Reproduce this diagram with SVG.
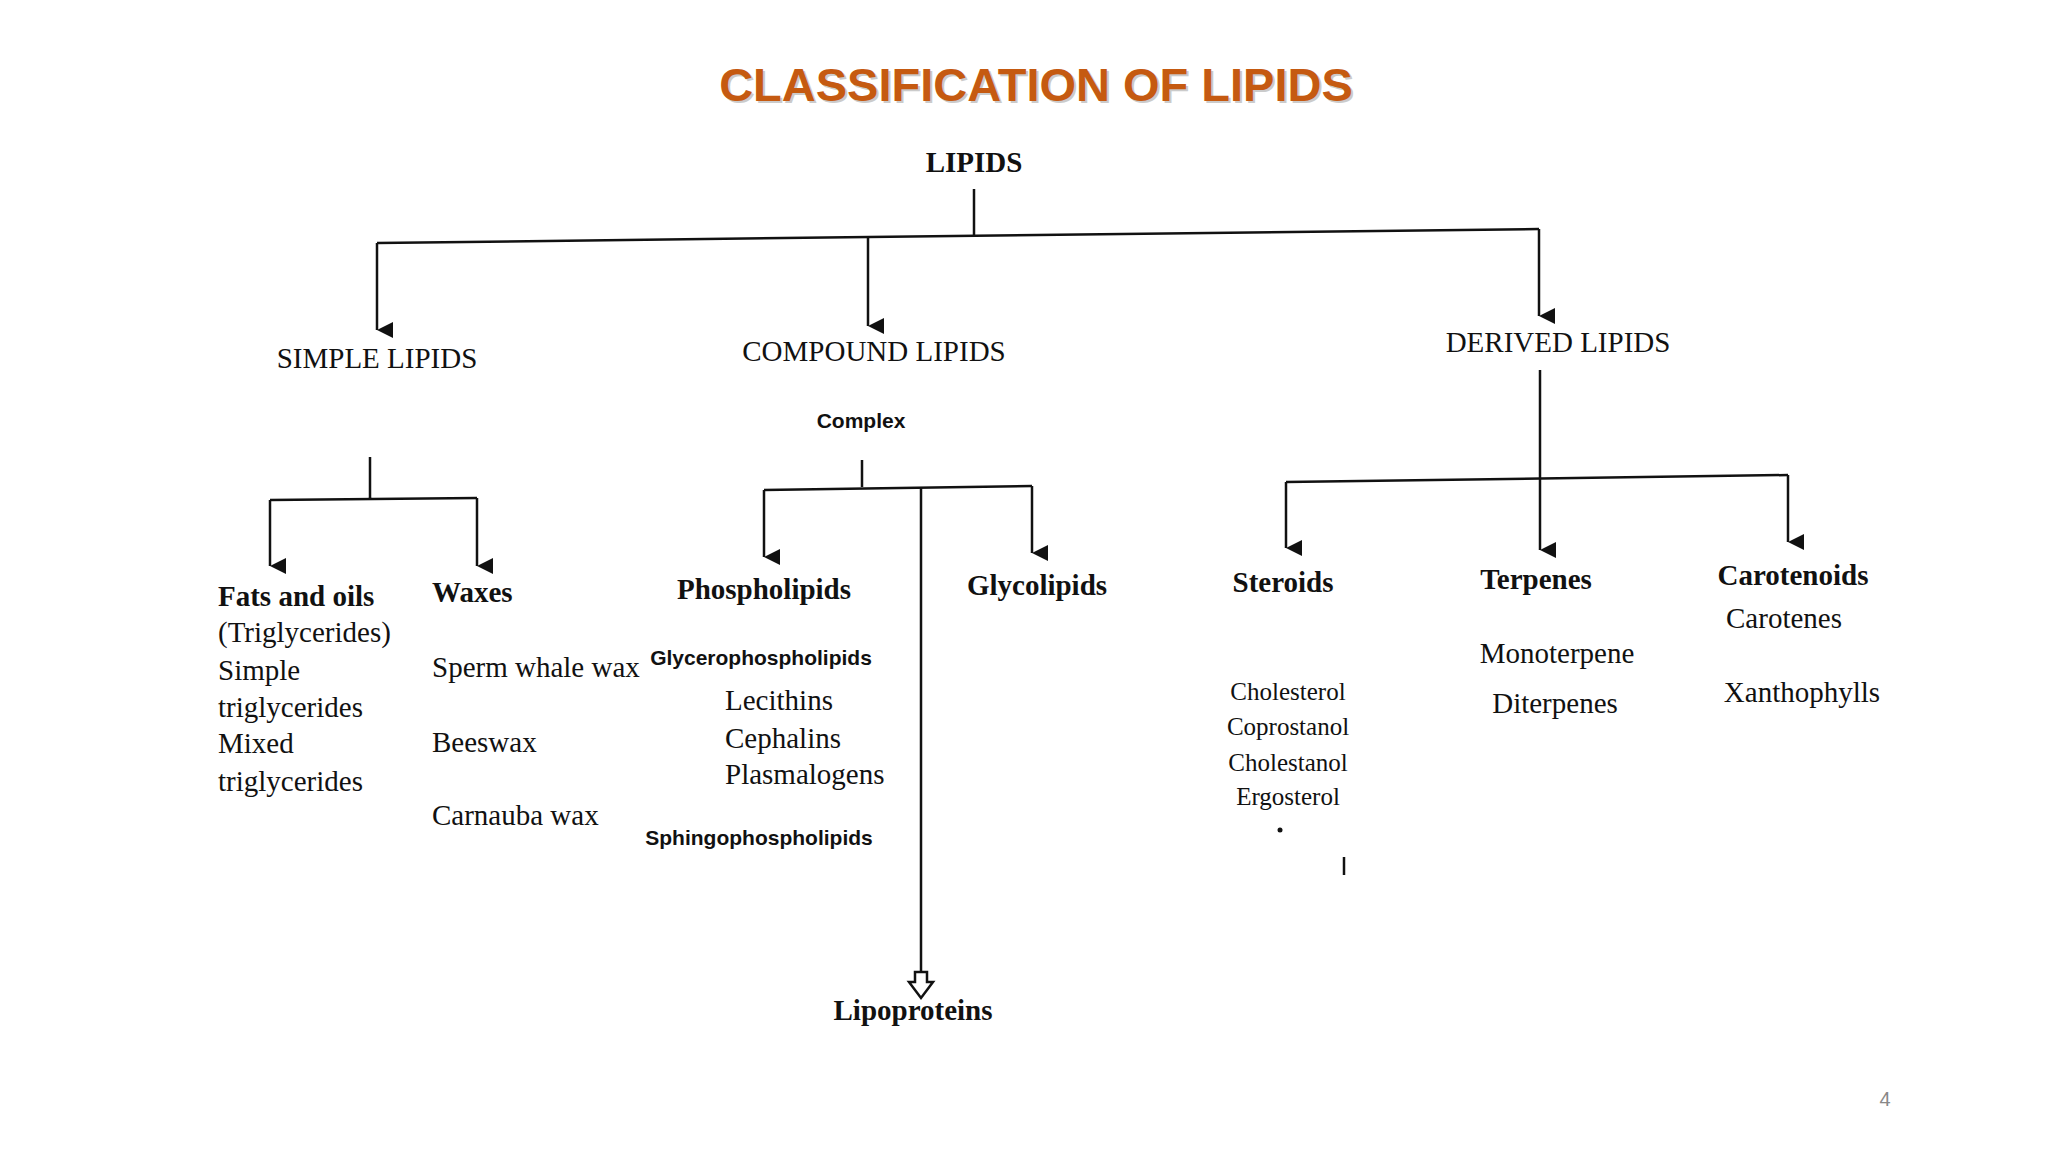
<svg xmlns="http://www.w3.org/2000/svg" width="2048" height="1152" viewBox="0 0 2048 1152">
<defs>
<style>
.t{font-family:"Liberation Serif",serif;font-size:29px;fill:#111}
.b{font-family:"Liberation Serif",serif;font-size:29px;font-weight:bold;fill:#111}
.s{font-family:"Liberation Sans",sans-serif;font-size:21px;font-weight:bold;fill:#111}
.c{font-family:"Liberation Serif",serif;font-size:25px;fill:#111}
.l{stroke:#111;stroke-width:2.5;fill:none}
</style>
<marker id="a" viewBox="0 0 10 10" refX="5" refY="10" markerWidth="16" markerHeight="16" markerUnits="userSpaceOnUse" orient="auto-start-reverse"><path d="M0,0 L10,0 L5,10z" fill="#111" transform="rotate(0)"/></marker>
</defs>
<rect width="2048" height="1152" fill="#fff"/>
<text x="1038" y="103" text-anchor="middle" font-family="Liberation Sans,sans-serif" font-size="47" font-weight="bold" fill="#999" opacity="0.5">CLASSIFICATION OF LIPIDS</text>
<text x="1036" y="101" text-anchor="middle" font-family="Liberation Sans,sans-serif" font-size="47" font-weight="bold" fill="#C55A11">CLASSIFICATION OF LIPIDS</text>
<g id="connectors">
<path class="l" d="M974 189V235"/>
<path class="l" d="M377 243L1539 229"/>
<path class="l" d="M377 243V330" marker-end="url(#a)"/>
<path class="l" d="M868 238V326" marker-end="url(#a)"/>
<path class="l" d="M1539 229V316" marker-end="url(#a)"/>
<path class="l" d="M370 457V498M270 500L477 498"/>
<path class="l" d="M270 500V566" marker-end="url(#a)"/>
<path class="l" d="M477 498V566" marker-end="url(#a)"/>
<path class="l" d="M862 460V487M764 490L1032 486"/>
<path class="l" d="M764 490V557" marker-end="url(#a)"/>
<path class="l" d="M1032 486V553" marker-end="url(#a)"/>
<path class="l" d="M921 487V972"/>
<path d="M915 972h12v10h6l-12 16l-12-16h6z" fill="#fff" stroke="#111" stroke-width="2.5"/>
<path class="l" d="M1540 370V550" marker-end="url(#a)"/>
<path class="l" d="M1286 482L1788 475"/>
<path class="l" d="M1286 482V548" marker-end="url(#a)"/>
<path class="l" d="M1788 475V542" marker-end="url(#a)"/>
<path class="l" d="M1344 857V875" stroke-width="1.5"/>
</g>
<g id="lipids"><text class="b" x="974" y="172" text-anchor="middle" font-size="28">LIPIDS</text></g>
<g id="simple"><text class="t" x="377" y="368" text-anchor="middle">SIMPLE LIPIDS</text></g>
<g id="compound"><text class="t" x="874" y="361" text-anchor="middle">COMPOUND LIPIDS</text>
<text class="s" x="861" y="428" text-anchor="middle">Complex</text></g>
<g id="derived"><text class="t" x="1558" y="352" text-anchor="middle">DERIVED LIPIDS</text></g>
<g id="fats"><text class="b" x="218" y="606">Fats and oils</text>
<text class="t" x="218" y="642">(Triglycerides)</text>
<text class="t" x="218" y="680">Simple</text>
<text class="t" x="218" y="717">triglycerides</text>
<text class="t" x="218" y="753">Mixed</text>
<text class="t" x="218" y="791">triglycerides</text></g>
<g id="waxes"><text class="b" x="432" y="602">Waxes</text>
<text class="t" x="432" y="677">Sperm whale wax</text>
<text class="t" x="432" y="752">Beeswax</text>
<text class="t" x="432" y="825">Carnauba wax</text></g>
<g id="phospholipids"><text class="b" x="764" y="599" text-anchor="middle">Phospholipids</text>
<text class="s" x="761" y="665" text-anchor="middle">Glycerophospholipids</text>
<text class="t" x="725" y="710">Lecithins</text>
<text class="t" x="725" y="748">Cephalins</text>
<text class="t" x="725" y="784">Plasmalogens</text>
<text class="s" x="759" y="845" text-anchor="middle">Sphingophospholipids</text></g>
<g id="glycolipids"><text class="b" x="1037" y="595" text-anchor="middle">Glycolipids</text></g>
<g id="lipoproteins"><text class="b" x="913" y="1020" text-anchor="middle" font-size="26">Lipoproteins</text></g>
<g id="steroids"><text class="b" x="1283" y="592" text-anchor="middle">Steroids</text>
<text class="c" x="1288" y="700" text-anchor="middle">Cholesterol</text>
<text class="c" x="1288" y="735" text-anchor="middle">Coprostanol</text>
<text class="c" x="1288" y="771" text-anchor="middle">Cholestanol</text>
<text class="c" x="1288" y="805" text-anchor="middle">Ergosterol</text>
<circle cx="1280" cy="830" r="2.5" fill="#111"/></g>
<g id="terpenes"><text class="b" x="1536" y="589" text-anchor="middle">Terpenes</text>
<text class="t" x="1557" y="663" text-anchor="middle">Monoterpene</text>
<text class="t" x="1555" y="713" text-anchor="middle">Diterpenes</text></g>
<g id="carotenoids"><text class="b" x="1793" y="585" text-anchor="middle">Carotenoids</text>
<text class="t" x="1784" y="628" text-anchor="middle">Carotenes</text>
<text class="t" x="1802" y="702" text-anchor="middle">Xanthophylls</text></g>
<text x="1885" y="1106" text-anchor="middle" font-family="Liberation Sans,sans-serif" font-size="20" fill="#888">4</text>
</svg>
